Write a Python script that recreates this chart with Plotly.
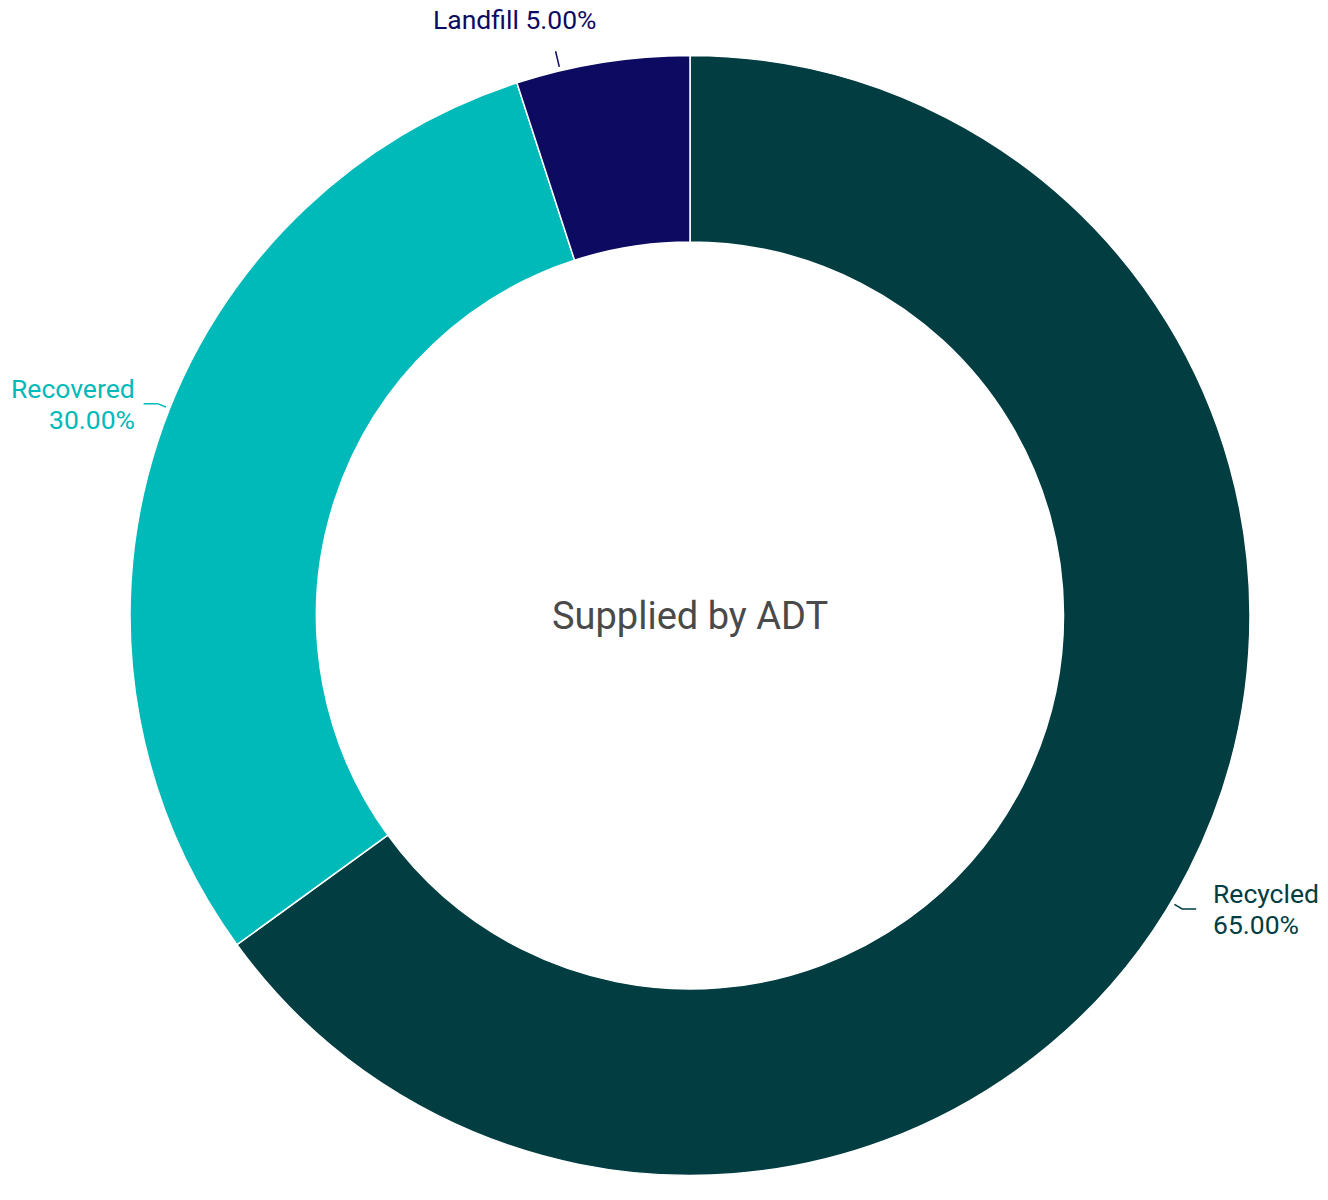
import math
import plotly.graph_objects as go

# ---- data ----
labels = ["Recycled", "Recovered", "Landfill"]
values = [65.0, 30.0, 5.0]
colors = ["#013d41", "#00b9b9", "#0d0a62"]
center_text = "Supplied by ADT"

# ---- layout geometry (pixels, figure coordinates) ----
W, H = 1328, 1200
CX, CY, R = 682, 607.5, 560
HOLE = 0.667
FONT = "Roboto"
LABEL_SIZE = 26.5
LINE_GAP = 31
# small styling nudges of label anchor angle (degrees)
angle_nudge = {"Recycled": 3.8, "Recovered": 3.7, "Landfill": -4.4}

dx = R / W
dy = R / H
xc = CX / W
yc = 1 - CY / H

fig = go.Figure(go.Pie(
    labels=labels,
    values=values,
    sort=False,
    direction="clockwise",
    rotation=0,
    hole=HOLE,
    marker=dict(colors=colors, line=dict(color="white", width=1.5)),
    textinfo="none",
    hoverinfo="label+percent",
    showlegend=False,
    domain=dict(x=[xc - dx, xc + dx], y=[yc - dy, yc + dy]),
))


def px(x, y):
    return x / W, 1 - y / H


total = sum(values)
cum = 0.0
shapes = []
annotations = []


def add_text(x, y, text, xa, ya, col):
    ax, ay = px(x, y)
    annotations.append(dict(x=ax, y=ay, xref="paper", yref="paper", text=text,
                            showarrow=False, xanchor=xa, yanchor=ya, align=xa if xa != "center" else "center",
                            font=dict(family=FONT, size=LABEL_SIZE, color=col)))


for lab, v, col in zip(labels, values, colors):
    mid = (cum + v / 2) / total * 360.0
    cum += v
    ang = math.radians(mid + angle_nudge.get(lab, 0))
    s, c = math.sin(ang), math.cos(ang)
    pct = v / total * 100
    if abs(s) < 0.35:
        # top label: short radial tick, text above
        x0, y0 = CX + (R + 4) * s, CY - (R + 4) * c
        x1, y1 = CX + (R + 20) * s, CY - (R + 20) * c
        path_pts = [(x0, y0), (x1, y1)]
        add_text(x1 - 41, y1 - 14, f"{lab} {pct:.2f}%", "center", "bottom", col)
    else:
        side = 1 if s > 0 else -1
        x0, y0 = CX + (R + 4) * s, CY - (R + 4) * c
        x1, y1 = CX + (R + 13) * s, CY - (R + 13) * c
        x2, y2 = x1 + side * 14, y1
        path_pts = [(x0, y0), (x1, y1), (x2, y2)]
        gap = 15 if side > 0 else 7
        xa = "left" if side > 0 else "right"
        tx = x2 + side * gap
        add_text(tx, y2 - LINE_GAP / 2, lab, xa, "middle", col)
        add_text(tx, y2 + LINE_GAP / 2, f"{pct:.2f}%", xa, "middle", col)
    pts = [px(a, b) for a, b in path_pts]
    path = "M " + " L ".join(f"{a:.5f},{b:.5f}" for a, b in pts)
    shapes.append(dict(type="path", xref="paper", yref="paper", path=path,
                       line=dict(color=col, width=1.5)))

annotations.append(dict(x=xc, y=yc, xref="paper", yref="paper", text=center_text,
                        showarrow=False, xanchor="center", yanchor="middle",
                        font=dict(family=FONT, size=38, color="#4a4a4a")))

fig.update_layout(
    width=W, height=H,
    margin=dict(l=0, r=0, t=0, b=0),
    paper_bgcolor="white", plot_bgcolor="white",
    shapes=shapes, annotations=annotations,
    font=dict(family=FONT),
)

fig.write_html("out.html")
